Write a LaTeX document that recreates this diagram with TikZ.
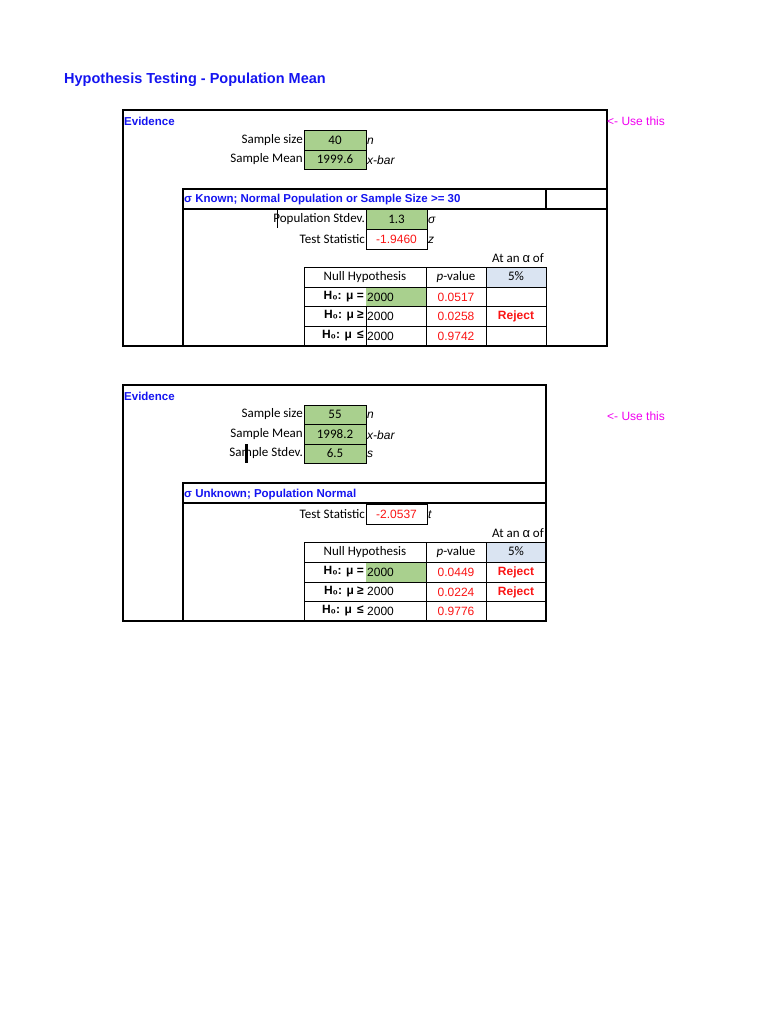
\documentclass[tikz,border=0pt]{standalone}
\usepackage{fontspec}
\setmainfont{Carlito}
\newfontfamily\arial{Liberation Sans}
\definecolor{ttlblue}{RGB}{20,20,240}
\definecolor{cgreen}{RGB}{169,208,142}
\definecolor{cblue}{RGB}{218,228,242}
\definecolor{cred}{RGB}{250,20,20}
\definecolor{cmag}{RGB}{240,0,240}
\begin{document}
\begin{tikzpicture}[x=1pt,y=-1pt,
  lbl/.style={anchor=east,inner sep=1pt,font=\fontsize{13}{15}\selectfont},
  cen/.style={inner sep=0pt,font=\fontsize{13}{15}\selectfont},
  ital/.style={anchor=west,inner sep=1pt,font=\fontsize{12}{14}\selectfont\arial\itshape},
  hdr/.style={anchor=west,inner sep=1pt,text=ttlblue,font=\fontsize{11.5}{13}\selectfont\arial\bfseries},
  red/.style={inner sep=0pt,text=cred,font=\fontsize{12}{14}\selectfont\arial},
  rej/.style={inner sep=0pt,text=cred,font=\fontsize{12}{14}\selectfont\arial\bfseries},
  mag/.style={anchor=west,inner sep=0pt,text=cmag,font=\fontsize{12}{14}\selectfont\arial},
  hnull/.style={anchor=east,inner sep=1pt,font=\fontsize{12}{14}\selectfont\arial\bfseries},
  val/.style={anchor=west,inner sep=1pt,font=\fontsize{12}{14}\selectfont\arial},
  thick2/.style={line width=1.6pt},
  thin/.style={line width=0.6pt}]
\useasboundingbox (0,0) rectangle (768,1024);
\node[anchor=west,inner sep=0pt,text=ttlblue,font=\fontsize{14.5}{17}\selectfont\arial\bfseries] (title) at (64,80) {Hypothesis Testing - Population Mean};

% ===== Table 1 =====
\fill[cgreen] (304,130) rectangle (366,169);
\fill[cgreen] (366,209) rectangle (427,229);
\fill[cblue] (486,267) rectangle (546,287);
\fill[cgreen] (366,287) rectangle (426,306);
\draw[thin] (304,130) rectangle (366,169) (304,150) -- (366,150);
\draw[thin] (366,209) rectangle (427,249) (366,229) -- (427,229);
\draw[thin] (304,267) rectangle (546,346);
\foreach \y in {287,306,326} \draw[thin] (304,\y) -- (546,\y);
\foreach \x in {426,486} \draw[thin] (\x,267) -- (\x,346);
\draw[thin] (366,306) -- (366,346);
\draw[thick2] (183,189) rectangle (607,346);
\draw[thick2] (183,209) -- (607,209) (546,189) -- (546,209);
\draw[thick2] (123,110) rectangle (607,346);
\fill (276.5,210) rectangle (278,228);

\node[hdr] (ev1) at (123,121) {Evidence};
\node[mag] (use1) at (607,121) {<- Use this};
\node[lbl] (ss1) at (304,140) {Sample size};
\node[cen] (ssv1) at (335,140) {40};
\node[ital] (n1) at (366,141) {n};
\node[lbl] (sm1) at (304,159) {Sample Mean};
\node[cen] (smv1) at (335,159) {1999.6};
\node[ital] (xb1) at (366,160) {x-bar};
\node[hdr] (h1) at (183,200) {σ Known; Normal Population or Sample Size >= 30};
\node[lbl] (ps1) at (366,219) {Population Stdev.};
\node[cen] (psv1) at (396.5,219) {1.3};
\node[ital] (sg1) at (427,220) {σ};
\node[lbl] (ts1) at (366,239) {Test Statistic};
\node[red] (tsv1) at (396.5,239.5) {-1.9460};
\node[ital] (z1) at (427,240) {z};
\node[lbl] (al1) at (545,258) {At an {\arial α} of};
\node[cen] (nh1) at (365,277) {Null Hypothesis};
\node[cen] (pv1) at (456,277.5) {\textit{p}-value};
\node[cen] (a51) at (516,276) {5\%};
\node[hnull] (r11) at (365,297) {H₀: μ =};
\node[hnull] (r21) at (365,316) {H₀: μ ≥};
\node[hnull] (r31) at (365,336) {H₀: μ \,≤};
\foreach \y/\n in {297/a,316/b,336/c} \node[val] (v1\n) at (366,\y) {2000};
\node[red] (p11) at (456,297.5) {0.0517};
\node[red] (p21) at (456,316.5) {0.0258};
\node[red] (p31) at (456,336.5) {0.9742};
\node[rej] (j21) at (516,316.5) {Reject};

% ===== Table 2 =====
\fill[cgreen] (304,405) rectangle (366,463);
\fill[cblue] (486,542) rectangle (546,562);
\fill[cgreen] (366,562) rectangle (426,582);
\draw[thin] (304,405) rectangle (366,463) (304,424) -- (366,424) (304,444) -- (366,444);
\draw[thin] (366,504) rectangle (427,524);
\draw[thin] (304,542) rectangle (546,621);
\foreach \y in {562,582,601} \draw[thin] (304,\y) -- (546,\y);
\foreach \x in {426,486} \draw[thin] (\x,542) -- (\x,621);
\draw[thick2] (183,483) rectangle (546,621);
\draw[thick2] (183,503) -- (546,503);
\draw[thick2] (123,385) rectangle (546,621);
\fill (245,444) rectangle (248,463);

\node[hdr] (ev2) at (123,396) {Evidence};
\node[mag] (use2) at (607,416) {<- Use this};
\node[lbl] (ss2) at (304,414.5) {Sample size};
\node[cen] (ssv2) at (335,414.5) {55};
\node[ital] (n2) at (366,415.5) {n};
\node[lbl] (sm2) at (304,434) {Sample Mean};
\node[cen] (smv2) at (335,434) {1998.2};
\node[ital] (xb2) at (366,435) {x-bar};
\node[lbl] (sd2) at (304,453.5) {Sample Stdev.};
\node[cen] (sdv2) at (335,453.5) {6.5};
\node[ital] (s2) at (366,454.5) {s};
\node[hdr] (h2) at (183,494.5) {σ Unknown; Population Normal};
\node[lbl] (ts2) at (366,514) {Test Statistic};
\node[red] (tsv2) at (396.5,514.5) {-2.0537};
\node[ital] (t2) at (427,515) {t};
\node[lbl] (al2) at (545,533) {At an {\arial α} of};
\node[cen] (nh2) at (365,552) {Null Hypothesis};
\node[cen] (pv2) at (456,552.5) {\textit{p}-value};
\node[cen] (a52) at (516,551) {5\%};
\node[hnull] (r12) at (365,572) {H₀: μ =};
\node[hnull] (r22) at (365,591.5) {H₀: μ ≥};
\node[hnull] (r32) at (365,611) {H₀: μ \,≤};
\foreach \y/\n in {572/a,591.5/b,611/c} \node[val] (v2\n) at (366,\y) {2000};
\node[red] (p12) at (456,572.5) {0.0449};
\node[red] (p22) at (456,592) {0.0224};
\node[red] (p32) at (456,611.5) {0.9776};
\node[rej] (j12) at (516,572.5) {Reject};
\node[rej] (j22) at (516,592) {Reject};
\end{tikzpicture}
\end{document}
